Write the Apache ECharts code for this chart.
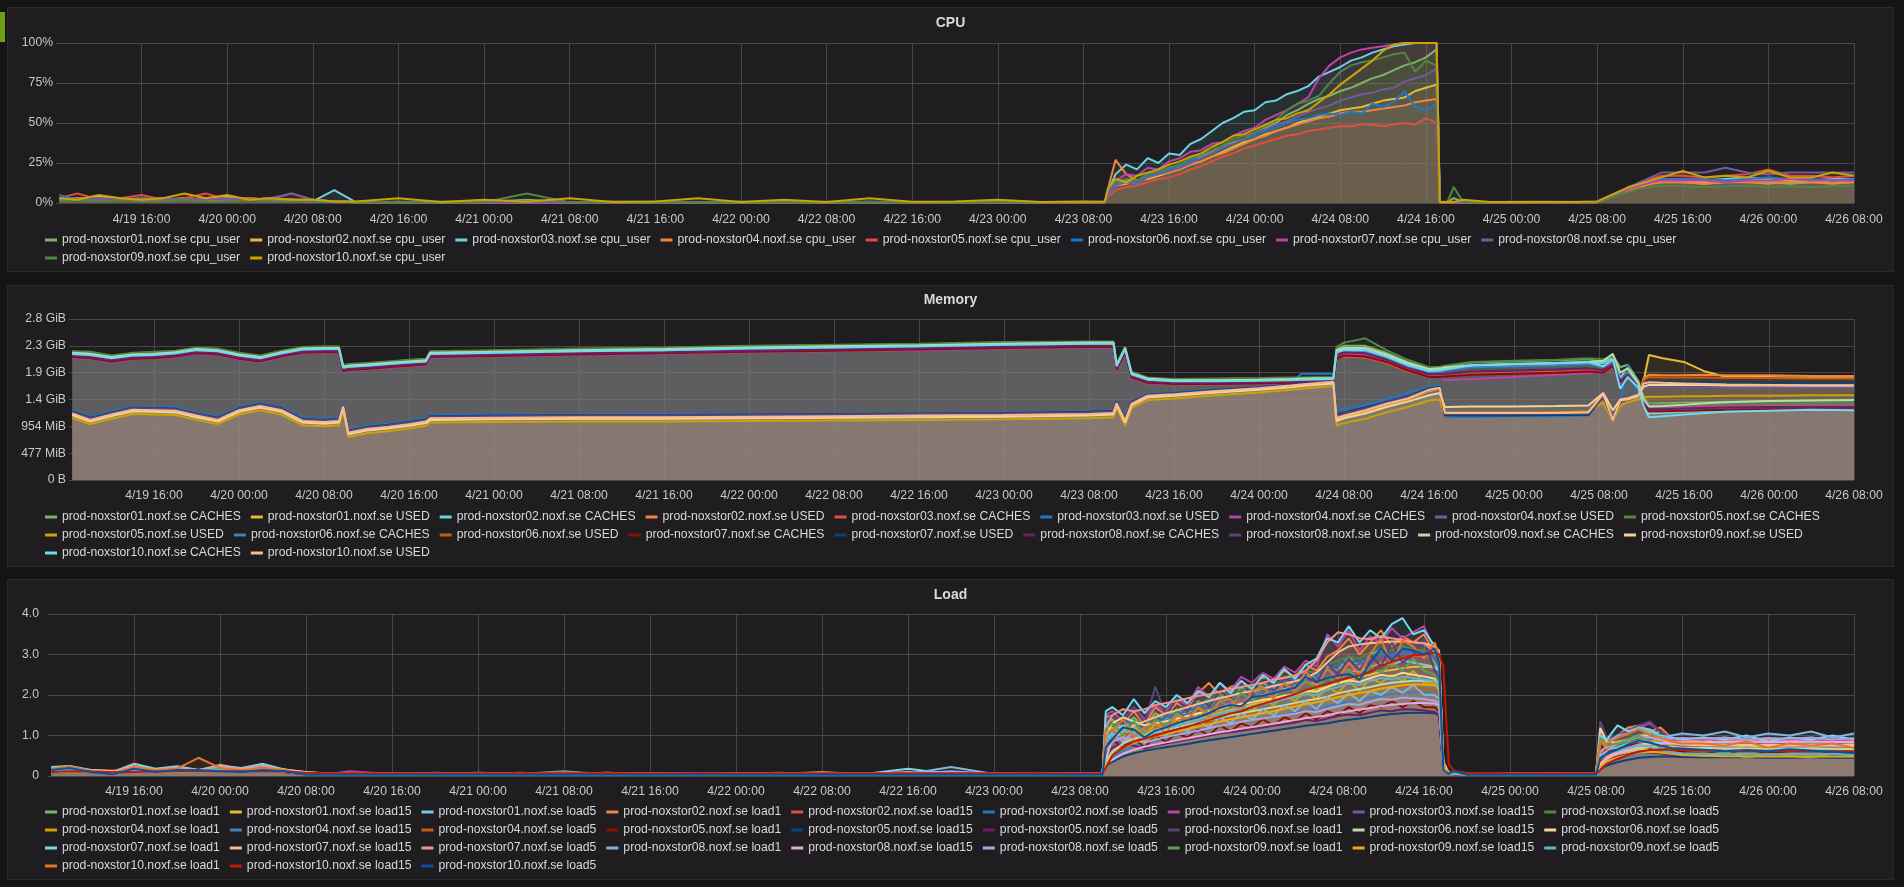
<!DOCTYPE html>
<html>
<head>
<meta charset="utf-8">
<title>noxstor</title>
<script src="https://cdn.jsdelivr.net/npm/echarts@6/dist/echarts.min.js"></script>
<style>
  body { margin: 0; background: #141414; width: 1904px; height: 887px; overflow: hidden; }
  .panel { position: absolute; left: 7px; width: 1885px; background: #1f1d1f; border: 1px solid #2a2a2a; }
  .mark { position: absolute; left: 0; top: 12px; width: 5px; height: 30px; background: #6ea014; }
  #problems { position: absolute; right: 10px; bottom: 0; color: red; font: 12px sans-serif; }
</style>
</head>
<body>
<div class="mark"></div>
<div id="cpu" class="panel" style="top:7px;height:263px"></div>
<div id="mem" class="panel" style="top:285px;height:280px"></div>
<div id="load" class="panel" style="top:579px;height:299px"></div>
<div id="problems"></div>
<script>
var FONT = '"Liberation Sans", Arial, sans-serif';
var FSIZE = 12.2;
var GRID = '#474747';
var hosts = ['01', '02', '03', '04', '05', '06', '07', '08', '09', '10'];
var palette = ['#7EB26D', '#EAB839', '#6ED0E0', '#EF843C', '#E24D42', '#1F78C1', '#BA43A6', '#705DA0', '#508642', '#CCA300',
  '#447EBC', '#C15C17', '#890F02', '#0A437C', '#6D1F62', '#584477', '#B7DBAB', '#F4D598', '#70DBED', '#F9BA8F',
  '#F29191', '#82B5D8', '#E5A8E2', '#AEA2E0', '#629E51', '#E5AC0E', '#64B0C8', '#E0752D', '#BF1B00', '#0A50A1'];

// x values are hours since 4/19 00:00

// ---------- CPU (%) ----------
var cpuTimes = [8.3,10,12,14,16,18,20,22,24,26,28,30,32,34,
  36,40,44,48,52,56,60,64,68,72,76,80,84,88,92,96,100,104,
  106,106.3,
  107,108,109,110,111,112,113,114,115,116,117,118,119,120,121,122,123,124,125,126,127,128,129,130,131,132,133,134,135,136,137,
  137.3,138,138.6,139.5,142,146,150,
  152,153,154,155,156,157,158,
  160,162,164,166,168,170,172,174,176];

var cpu01 = [2,3,2,3,2,2,3,2,2,3,2,2,1,1,
  0.5,0.8,0.4,0.6,2,0.5,0.7,0.4,0.6,0.5,0.8,0.4,0.6,0.5,0.7,0.4,0.6,0.5,
  0.5,8,
  12,14,13,17,19,21,23,27,29,32,35,38,40,44,47,50,55,58,62,65,67,70,72,75,78,80,83,86,88,91,96,
  0.5,0.6,3,0.5,0.6,0.5,0.7,
  0.6,3,6,8,10,12,13,
  13,12,13,14,13,12,13,13,13];
var cpu02 = [3,2,4,3,2,3,2,3,4,2,3,2,2,1,
  0.6,0.5,0.7,0.4,0.6,0.5,0.8,0.4,0.5,0.6,0.5,0.7,0.4,0.6,0.5,0.4,0.6,0.5,
  0.6,6,
  11,12,14,15,17,19,21,24,26,29,32,35,38,40,43,45,47,50,52,54,56,58,59,60,62,64,65,66,70,72,74,
  0.5,0.5,0.6,0.5,0.7,0.5,0.6,
  0.7,3,6,9,11,13,14,
  14,13,14,15,14,14,13,14,14];
var cpu03 = [2,2,3,2,2,3,2,2,3,2,2,2,1,8,
  0.5,0.6,0.4,0.5,0.6,0.5,0.4,0.6,0.5,0.4,0.5,0.6,0.4,0.5,0.6,0.5,0.4,0.5,
  0.5,7,
  18,24,21,28,25,31,30,37,40,45,50,53,57,58,63,64,68,70,73,79,82,85,89,91,94,96,98,99,100,100,100,
  0.4,0.5,0.5,0.4,0.5,0.4,0.5,
  0.5,4,7,9,11,13,15,
  15,14,15,16,15,15,14,15,15];
var cpu04 = [2,3,2,2,3,2,3,2,2,3,2,2,1,1,
  0.4,0.5,0.6,0.4,0.5,0.6,0.4,0.5,0.4,0.6,0.5,0.4,0.5,0.6,0.4,0.5,0.6,0.4,
  0.4,9,
  27,18,14,16,18,19,21,24,26,29,31,34,37,40,42,45,47,49,51,53,54,56,57,57,58,59,60,61,63,64,65,
  0.4,0.4,0.5,0.4,0.5,0.4,0.4,
  0.5,3,6,8,10,12,13,
  13,12,13,13,12,13,13,12,13];
var cpu05 = [3,6,2,3,5,2,3,6,2,3,2,6,2,1,
  0.6,0.5,0.4,0.6,0.5,0.4,0.6,0.5,0.4,0.5,0.6,0.4,0.5,0.4,0.6,0.5,0.4,0.5,
  0.5,4,
  8,10,11,13,15,16,18,21,23,26,29,31,34,36,38,40,42,43,45,46,47,48,48,49,49,48,49,50,49,53,50,
  0.5,0.5,0.6,0.5,0.5,0.6,0.5,
  0.6,4,7,10,12,15,17,
  17,16,17,18,21,17,17,16,17];
var cpu06 = [5,2,3,2,3,2,2,3,2,2,3,2,1,1,
  0.8,0.6,1,0.7,0.9,0.6,0.8,1,0.7,0.9,0.6,0.8,1,0.7,0.8,0.9,0.7,0.8,
  0.8,7,
  12,15,13,17,19,21,23,27,28,31,34,37,40,42,45,47,50,52,53,55,56,55,57,56,62,60,63,70,60,58,62,
  0.6,0.7,0.6,0.8,0.7,0.6,0.8,
  0.8,3,6,9,11,13,15,
  15,15,14,15,16,15,15,14,15];
var cpu07 = [2,2,2,3,2,2,2,3,2,2,2,2,1,1,
  0.4,0.5,0.4,0.5,0.4,0.5,0.4,0.5,0.4,0.5,0.4,0.5,0.4,0.5,0.4,0.5,0.4,0.5,
  0.5,8,
  14,18,17,22,21,26,28,32,33,37,38,42,45,47,52,55,58,62,66,78,86,91,94,96,97,98,99,100,100,100,100,
  0.4,0.5,0.4,0.5,0.4,0.5,0.4,
  0.5,3,6,9,11,13,14,
  14,14,13,14,14,15,14,14,14];
var cpu08 = [2,2,3,2,2,3,2,2,3,2,3,6,2,1,
  0.5,0.4,0.5,0.6,0.4,0.5,0.6,0.4,0.5,0.6,0.4,0.5,0.6,0.4,0.5,0.6,0.4,0.5,
  0.5,5,
  11,13,12,16,18,20,22,25,28,31,35,37,40,44,46,49,51,54,57,59,61,64,66,68,69,71,72,76,78,80,84,
  0.5,0.5,0.5,0.6,0.5,0.5,0.5,
  0.6,4,7,10,13,16,19,
  19,19,22,19,18,19,19,19,19];
var cpu09 = [1,2,1,2,1,1,2,1,1,2,1,1,1,0.5,
  0.3,0.4,0.3,0.5,6,0.4,0.3,0.5,0.3,0.4,0.3,0.5,0.3,0.4,0.3,0.5,0.3,0.4,
  0.4,10,
  13,15,14,18,20,22,24,28,30,33,36,40,42,44,48,52,58,62,64,67,75,82,86,88,89,91,93,94,82,89,86,
  0.4,0.5,10,0.4,0.5,0.4,0.5,
  0.5,3,5,7,9,10,11,
  10.5,10,10.5,11,10,10.5,10,10.5,11];
var cpu10 = [3,2,5,3,2,3,6,3,5,2,3,2,2,1,
  1,3,0.6,2,0.8,3,0.6,1,3,0.7,2,0.6,3,0.8,1,2,0.7,1,
  0.8,9,
  15,13,17,19,21,24,26,29,31,35,38,42,43,46,49,52,53,56,58,63,68,74,79,84,89,95,99,100,100,100,100,
  0.7,0.8,0.6,2,0.7,0.8,0.7,
  1,4,7,10,12,14,16,
  20,16,17,16,20,16,16,19,17];

// ---------- Memory (GB, 1e9 bytes) ----------
var memTimes = [8.3,10,12,14,16,18,20,22,24,26,28,30,32,33.4,33.8,34.3,
  36,38,40,41.6,42,
  48,56,64,72,80,88,96,104,
  106.3,106.6,107.4,108,109.5,
  112,116,120,123,124,127,
  127.3,128,130,132,134,136,137,137.5,
  140,144,148,151,
  152.4,153.3,154,154.7,155.7,156.2,156.7,
  158,160,162,164,168,172,176];

var mem01C = [2.39,2.38,2.31,2.36,2.38,2.40,2.46,2.44,2.36,2.31,2.40,2.47,2.48,2.48,2.13,2.15,
  2.17,2.20,2.23,2.25,2.39,
  2.41,2.44,2.46,2.49,2.51,2.53,2.56,2.57,
  2.57,2.16,2.47,2.01,1.90,
  1.87,1.88,1.89,1.90,1.90,1.91,
  2.44,2.50,2.50,2.37,2.20,2.08,2.09,2.11,
  2.19,2.21,2.23,2.25,
  2.20,2.32,2.10,2.15,1.85,1.55,1.42,
  1.43,1.44,1.45,1.46,1.47,1.48,1.48];
var mem01U = [1.22,1.10,1.20,1.29,1.28,1.27,1.18,1.10,1.28,1.36,1.28,1.08,1.06,1.08,1.35,0.86,
  0.93,0.97,1.02,1.07,1.13,
  1.14,1.15,1.15,1.16,1.17,1.18,1.19,1.21,
  1.23,1.41,1.08,1.40,1.55,
  1.58,1.64,1.69,1.74,1.76,1.81,
  1.13,1.18,1.28,1.40,1.50,1.66,1.70,1.23,
  1.23,1.23,1.23,1.24,
  1.58,1.10,1.46,1.48,1.55,1.85,2.33,
  2.27,2.20,2.02,1.92,1.92,1.90,1.90];
var mem02C = [2.36,2.34,2.28,2.33,2.34,2.37,2.43,2.41,2.33,2.28,2.37,2.44,2.45,2.45,2.10,2.12,
  2.14,2.17,2.20,2.22,2.36,
  2.38,2.41,2.43,2.46,2.48,2.50,2.53,2.55,
  2.55,2.13,2.45,1.98,1.88,
  1.85,1.85,1.86,1.87,1.88,1.89,
  2.40,2.44,2.44,2.32,2.16,2.05,2.06,2.08,
  2.12,2.14,2.16,2.18,
  2.18,2.28,1.90,2.10,1.80,1.45,1.24,
  1.25,1.27,1.29,1.30,1.32,1.33,1.33];
var mem02U = [1.25,1.13,1.23,1.32,1.31,1.30,1.21,1.13,1.31,1.39,1.31,1.11,1.09,1.11,1.38,0.89,
  0.96,1.00,1.05,1.10,1.16,
  1.17,1.18,1.18,1.19,1.20,1.21,1.22,1.24,
  1.26,1.44,1.11,1.43,1.58,
  1.61,1.67,1.72,1.77,1.79,1.84,
  1.16,1.21,1.31,1.43,1.53,1.69,1.73,1.26,
  1.26,1.26,1.26,1.27,
  1.62,1.14,1.50,1.52,1.60,1.90,1.96,
  1.95,1.95,1.96,1.95,1.95,1.94,1.94];
var mem03C = [2.30,2.28,2.22,2.27,2.28,2.31,2.37,2.35,2.27,2.22,2.31,2.38,2.39,2.39,2.04,2.06,
  2.08,2.11,2.14,2.16,2.30,
  2.32,2.35,2.37,2.40,2.42,2.44,2.47,2.49,
  2.49,2.07,2.39,1.92,1.82,
  1.80,1.80,1.81,1.82,1.82,1.83,
  2.28,2.30,2.28,2.18,2.02,1.92,1.92,1.94,
  1.98,2.00,2.02,2.04,
  2.00,2.10,1.85,1.95,1.70,1.45,1.32,
  1.32,1.33,1.34,1.35,1.36,1.36,1.36];
var mem03U = [1.30,1.18,1.28,1.37,1.36,1.35,1.26,1.18,1.36,1.44,1.36,1.16,1.14,1.16,1.40,0.94,
  1.01,1.05,1.10,1.15,1.21,
  1.22,1.22,1.23,1.23,1.24,1.25,1.26,1.28,
  1.30,1.47,1.14,1.46,1.60,
  1.63,1.68,1.73,1.80,1.98,1.98,
  1.30,1.33,1.40,1.50,1.62,1.74,1.76,1.18,
  1.18,1.19,1.19,1.20,
  1.58,1.15,1.45,2.15,1.55,1.75,1.78,
  1.78,1.78,1.78,1.77,1.77,1.77,1.77];
var mem04C = [2.28,2.26,2.20,2.25,2.26,2.29,2.35,2.33,2.25,2.20,2.29,2.36,2.37,2.37,2.02,2.04,
  2.06,2.09,2.12,2.14,2.28,
  2.30,2.33,2.35,2.38,2.40,2.42,2.45,2.47,
  2.47,2.05,2.37,1.90,1.80,
  1.78,1.78,1.79,1.80,1.80,1.81,
  2.32,2.36,2.34,2.22,2.06,1.95,1.95,1.86,
  1.88,1.92,1.96,1.99,
  2.00,2.20,1.80,1.98,1.75,1.48,1.34,
  1.34,1.35,1.36,1.37,1.38,1.38,1.38];
var mem04U = [1.26,1.14,1.24,1.33,1.32,1.31,1.22,1.14,1.32,1.40,1.32,1.12,1.10,1.12,1.38,0.90,
  0.97,1.01,1.06,1.11,1.17,
  1.18,1.19,1.19,1.20,1.21,1.22,1.23,1.25,
  1.27,1.44,1.12,1.43,1.58,
  1.61,1.67,1.72,1.77,1.79,1.84,
  1.18,1.23,1.32,1.44,1.54,1.68,1.71,1.22,
  1.22,1.22,1.23,1.23,
  1.55,1.12,1.45,1.48,1.56,1.72,1.74,
  1.74,1.74,1.74,1.73,1.73,1.73,1.73];
var mem05C = [2.40,2.39,2.32,2.37,2.39,2.41,2.47,2.45,2.37,2.32,2.41,2.48,2.49,2.49,2.14,2.16,
  2.18,2.21,2.24,2.26,2.40,
  2.42,2.45,2.47,2.50,2.52,2.54,2.57,2.58,
  2.58,2.17,2.48,2.02,1.91,
  1.88,1.89,1.90,1.91,1.91,1.92,
  2.48,2.56,2.64,2.42,2.24,2.10,2.11,2.13,
  2.20,2.22,2.24,2.27,
  2.25,2.30,2.00,2.05,1.78,1.50,1.40,
  1.40,1.41,1.42,1.43,1.44,1.45,1.45];
var mem05U = [1.16,1.04,1.14,1.23,1.22,1.21,1.12,1.04,1.22,1.30,1.22,1.02,1.00,1.02,1.29,0.80,
  0.87,0.91,0.96,1.01,1.07,
  1.08,1.09,1.09,1.10,1.11,1.12,1.13,1.15,
  1.17,1.35,1.02,1.34,1.49,
  1.52,1.58,1.63,1.68,1.70,1.75,
  1.02,1.06,1.14,1.26,1.36,1.48,1.50,1.20,
  1.22,1.24,1.26,1.28,
  1.45,1.10,1.38,1.45,1.50,1.54,1.55,
  1.55,1.56,1.56,1.57,1.57,1.58,1.58];
var mem06C = [2.32,2.30,2.24,2.29,2.30,2.33,2.39,2.37,2.29,2.24,2.33,2.40,2.41,2.41,2.06,2.08,
  2.10,2.13,2.16,2.18,2.32,
  2.34,2.37,2.39,2.42,2.44,2.46,2.49,2.51,
  2.51,2.09,2.41,1.94,1.85,
  1.82,1.82,1.83,1.84,1.85,1.86,
  2.36,2.40,2.40,2.28,2.12,2.01,2.02,2.04,
  2.10,2.12,2.14,2.16,
  2.10,2.22,1.85,2.00,1.76,1.42,1.30,
  1.30,1.31,1.32,1.33,1.34,1.34,1.34];
var mem06U = [1.24,1.12,1.22,1.31,1.30,1.29,1.20,1.12,1.30,1.38,1.30,1.10,1.08,1.10,1.36,0.88,
  0.95,0.99,1.04,1.09,1.15,
  1.16,1.17,1.17,1.18,1.19,1.20,1.21,1.23,
  1.25,1.42,1.10,1.41,1.56,
  1.59,1.65,1.70,1.75,1.77,1.82,
  1.16,1.21,1.30,1.42,1.52,1.67,1.71,1.24,
  1.24,1.24,1.24,1.25,
  1.58,1.12,1.46,1.49,1.58,1.86,1.92,
  1.91,1.91,1.91,1.90,1.90,1.89,1.89];
var mem07C = [2.29,2.27,2.21,2.26,2.27,2.30,2.36,2.34,2.26,2.21,2.30,2.37,2.38,2.38,2.03,2.05,
  2.07,2.10,2.13,2.15,2.29,
  2.31,2.34,2.36,2.39,2.41,2.43,2.46,2.48,
  2.48,2.06,2.38,1.91,1.81,
  1.79,1.79,1.80,1.81,1.81,1.82,
  2.26,2.32,2.30,2.20,2.04,1.92,1.92,1.93,
  1.96,1.98,2.00,2.02,
  2.00,2.12,1.82,1.95,1.72,1.42,1.28,
  1.28,1.29,1.30,1.31,1.32,1.32,1.32];
var mem07U = [1.28,1.16,1.26,1.35,1.34,1.33,1.24,1.16,1.34,1.42,1.34,1.14,1.12,1.14,1.38,0.92,
  0.99,1.03,1.08,1.13,1.19,
  1.20,1.21,1.21,1.22,1.23,1.24,1.25,1.27,
  1.29,1.46,1.13,1.45,1.59,
  1.62,1.68,1.73,1.78,1.80,1.85,
  1.22,1.26,1.35,1.46,1.56,1.71,1.74,1.20,
  1.20,1.20,1.21,1.21,
  1.56,1.13,1.46,1.50,1.56,1.80,1.83,
  1.83,1.83,1.83,1.82,1.82,1.82,1.82];
var mem08C = [2.31,2.29,2.23,2.28,2.29,2.32,2.38,2.36,2.28,2.23,2.32,2.39,2.40,2.40,2.05,2.07,
  2.09,2.12,2.15,2.17,2.31,
  2.33,2.36,2.38,2.41,2.43,2.45,2.48,2.50,
  2.50,2.08,2.40,1.93,1.83,
  1.81,1.81,1.82,1.83,1.83,1.84,
  2.32,2.38,2.36,2.24,2.08,1.97,1.97,1.98,
  2.02,2.04,2.06,2.08,
  2.05,2.15,1.84,1.96,1.74,1.45,1.32,
  1.32,1.33,1.34,1.35,1.36,1.36,1.36];
var mem08U = [1.27,1.15,1.25,1.34,1.33,1.32,1.23,1.15,1.33,1.41,1.33,1.13,1.11,1.13,1.38,0.91,
  0.98,1.02,1.07,1.12,1.18,
  1.19,1.20,1.20,1.21,1.22,1.23,1.24,1.26,
  1.28,1.45,1.12,1.44,1.58,
  1.61,1.67,1.72,1.77,1.79,1.84,
  1.20,1.24,1.33,1.45,1.55,1.69,1.72,1.23,
  1.23,1.23,1.24,1.24,
  1.56,1.12,1.46,1.49,1.56,1.74,1.76,
  1.76,1.76,1.76,1.75,1.75,1.75,1.75];
var mem09C = [2.37,2.35,2.29,2.34,2.35,2.38,2.44,2.42,2.34,2.29,2.38,2.45,2.46,2.46,2.11,2.13,
  2.15,2.18,2.21,2.23,2.37,
  2.39,2.42,2.44,2.47,2.49,2.51,2.54,2.56,
  2.56,2.14,2.46,1.99,1.89,
  1.86,1.86,1.87,1.88,1.89,1.90,
  2.42,2.46,2.46,2.34,2.18,2.07,2.08,2.10,
  2.14,2.16,2.18,2.20,
  2.22,2.35,2.00,2.08,1.80,1.50,1.37,
  1.38,1.40,1.43,1.45,1.47,1.48,1.49];
var mem09U = [1.21,1.09,1.19,1.28,1.27,1.26,1.17,1.09,1.27,1.35,1.27,1.07,1.05,1.07,1.34,0.85,
  0.92,0.96,1.01,1.06,1.12,
  1.13,1.14,1.14,1.15,1.16,1.17,1.18,1.20,
  1.22,1.40,1.07,1.39,1.54,
  1.57,1.63,1.68,1.73,1.75,1.80,
  1.10,1.15,1.24,1.36,1.46,1.58,1.62,1.36,
  1.37,1.37,1.38,1.39,
  1.62,1.30,1.50,1.52,1.58,1.74,1.77,
  1.77,1.77,1.77,1.76,1.76,1.76,1.76];
var mem10C = [2.35,2.33,2.27,2.32,2.33,2.36,2.42,2.40,2.32,2.27,2.36,2.43,2.44,2.44,2.09,2.11,
  2.13,2.16,2.19,2.21,2.35,
  2.37,2.40,2.42,2.45,2.47,2.49,2.52,2.54,
  2.54,2.12,2.44,1.97,1.87,
  1.84,1.84,1.85,1.86,1.87,1.88,
  2.38,2.42,2.42,2.30,2.14,2.03,2.04,2.06,
  2.14,2.16,2.18,2.20,
  2.12,2.25,1.70,1.92,1.72,1.38,1.17,
  1.19,1.22,1.25,1.27,1.29,1.31,1.30];
var mem10U = [1.24,1.12,1.22,1.31,1.30,1.29,1.20,1.12,1.30,1.38,1.30,1.10,1.08,1.10,1.37,0.88,
  0.95,0.99,1.04,1.09,1.15,
  1.16,1.17,1.17,1.18,1.19,1.20,1.21,1.23,
  1.25,1.43,1.10,1.42,1.57,
  1.60,1.66,1.71,1.76,1.78,1.83,
  1.15,1.20,1.30,1.42,1.52,1.68,1.72,1.25,
  1.25,1.25,1.25,1.26,
  1.60,1.12,1.48,1.50,1.56,1.80,1.82,
  1.81,1.80,1.79,1.78,1.77,1.76,1.76];

// ---------- Load ----------
var loadTimes = [8.3,10,12,14,16,18,20,22,24,26,28,30,32,34,
  36,40,44,48,52,56,60,64,68,72,76,80,84,88,92,96,100,104,
  105.5,106.1,106.4,
  107,108,109,110,111,112,113,114,115,116,117,118,119,120,121,122,123,124,125,126,127,128,129,130,131,132,133,134,135,136,137,
  137.4,137.8,138.3,138.8,140,144,148,152,
  152.4,153,154,155,156,157,158,159,160,
  162,164,166,168,170,172,174,176];

var load01_1 = [0.2,0.25,0.12,0.08,0.22,0.15,0.2,0.12,0.24,0.16,0.2,0.15,0.05,0.04,
  0.06,0.04,0.08,0.03,0.05,0.12,0.04,0.06,0.03,0.05,0.08,0.04,0.06,0.03,0.05,0.07,0.04,0.05,
  0.06,0.05,1.3,
  1.4,1.15,1.45,1.2,1.55,1.4,1.65,1.5,1.85,1.7,2.0,1.9,2.2,2.0,2.3,2.15,2.4,2.25,2.55,2.4,2.7,2.6,2.95,2.7,3.0,3.1,2.85,3.2,3.0,3.1,2.8,
  2.6,0.15,0.06,0.1,0.05,0.04,0.06,0.05,
  1.0,0.8,0.95,1.05,1.2,1.05,1.1,0.9,0.85,
  0.8,0.9,0.7,0.85,0.75,0.9,0.8,0.75];
var load01_15 = [0.12,0.14,0.13,0.11,0.13,0.13,0.14,0.13,0.15,0.14,0.15,0.14,0.08,0.05,
  0.05,0.04,0.05,0.04,0.05,0.05,0.04,0.05,0.04,0.05,0.05,0.04,0.05,0.04,0.05,0.05,0.04,0.05,
  0.05,0.05,0.35,
  0.6,0.82,0.96,1.05,1.14,1.2,1.28,1.35,1.42,1.5,1.56,1.63,1.7,1.76,1.82,1.88,1.94,2.0,2.08,2.14,2.2,2.3,2.38,2.44,2.5,2.58,2.62,2.66,2.7,2.7,2.68,
  2.6,0.3,0.08,0.06,0.05,0.04,0.05,0.05,
  0.25,0.4,0.5,0.58,0.65,0.68,0.7,0.7,0.68,
  0.67,0.66,0.66,0.65,0.65,0.66,0.66,0.65];
var load01_5 = [0.16,0.2,0.12,0.08,0.18,0.13,0.17,0.12,0.2,0.14,0.17,0.14,0.05,0.04,
  0.05,0.04,0.06,0.04,0.05,0.08,0.04,0.05,0.04,0.05,0.06,0.04,0.05,0.04,0.05,0.06,0.04,0.05,
  0.05,0.05,0.8,
  1.1,1.25,1.2,1.1,1.25,1.33,1.42,1.48,1.58,1.66,1.75,1.82,1.9,1.95,2.02,2.08,2.15,2.2,2.3,2.28,2.42,2.52,2.62,2.58,2.7,2.8,2.75,2.85,2.8,2.75,2.7,
  2.6,0.2,0.07,0.08,0.05,0.04,0.05,0.05,
  0.5,0.62,0.72,0.8,0.88,0.85,0.82,0.78,0.76,
  0.74,0.72,0.73,0.71,0.72,0.74,0.72,0.7];
var load02_1 = [0.22,0.18,0.14,0.1,0.2,0.17,0.22,0.14,0.28,0.18,0.22,0.16,0.05,0.04,
  0.05,0.07,0.04,0.06,0.05,0.04,0.08,0.05,0.04,0.06,0.05,0.1,0.04,0.05,0.06,0.04,0.05,0.06,
  0.06,0.06,1.45,
  1.5,1.3,1.6,1.25,1.7,1.5,1.8,1.65,2.05,2.3,2.0,2.2,2.3,2.15,2.45,2.3,2.6,2.45,2.75,2.6,2.95,3.1,3.4,3.0,3.3,3.6,3.2,3.45,3.3,3.5,3.0,
  2.8,0.15,0.06,0.12,0.05,0.05,0.04,0.05,
  1.1,0.9,1.0,1.2,1.25,1.1,1.2,0.95,0.9,
  0.85,0.95,0.8,0.9,0.85,0.95,0.85,0.8];
var load02_15 = [0.13,0.14,0.14,0.12,0.13,0.14,0.15,0.14,0.16,0.15,0.16,0.15,0.09,0.06,
  0.05,0.05,0.05,0.05,0.05,0.05,0.05,0.05,0.05,0.05,0.06,0.05,0.05,0.05,0.05,0.05,0.05,0.05,
  0.05,0.05,0.38,
  0.65,0.9,1.05,1.15,1.25,1.32,1.4,1.47,1.55,1.62,1.7,1.78,1.84,1.92,1.98,2.05,2.12,2.2,2.28,2.34,2.42,2.52,2.6,2.66,2.74,2.82,2.88,2.92,2.95,2.96,2.94,
  2.85,0.35,0.08,0.06,0.05,0.05,0.05,0.05,
  0.27,0.42,0.54,0.62,0.7,0.73,0.74,0.74,0.73,
  0.72,0.72,0.71,0.71,0.71,0.72,0.71,0.71];
var load02_5 = [0.17,0.17,0.13,0.1,0.17,0.15,0.19,0.14,0.22,0.16,0.19,0.15,0.06,0.04,
  0.05,0.05,0.05,0.05,0.05,0.04,0.06,0.05,0.04,0.05,0.05,0.07,0.04,0.05,0.05,0.04,0.05,0.05,
  0.05,0.05,0.9,
  1.2,1.35,1.3,1.2,1.35,1.45,1.55,1.6,1.72,1.8,1.9,1.98,2.05,2.12,2.2,2.25,2.35,2.4,2.5,2.48,2.65,2.75,2.85,2.8,2.95,3.05,3.0,3.1,3.05,3.0,2.95,
  2.8,0.2,0.07,0.09,0.05,0.05,0.05,0.05,
  0.55,0.68,0.78,0.88,0.95,0.92,0.9,0.84,0.8,
  0.78,0.79,0.77,0.78,0.78,0.8,0.78,0.76];
var load03_1 = [0.18,0.2,0.15,0.1,0.25,0.16,0.22,0.15,0.2,0.18,0.24,0.14,0.06,0.04,
  0.12,0.05,0.04,0.06,0.05,0.09,0.04,0.05,0.06,0.04,0.05,0.06,0.05,0.04,0.07,0.05,0.04,0.06,
  0.06,0.05,1.5,
  1.6,1.35,1.7,1.4,1.75,1.6,1.9,1.75,2.2,1.95,2.3,2.1,2.45,2.3,2.55,2.4,2.7,2.55,2.85,2.7,3.5,3.2,3.6,3.1,3.45,3.3,3.65,3.4,3.55,3.7,3.1,
  2.9,0.14,0.06,0.1,0.05,0.06,0.05,0.05,
  1.15,0.85,1.0,1.15,1.2,1.3,1.1,0.95,0.9,
  0.95,0.85,0.9,0.8,0.95,0.85,0.9,0.85];
var load03_15 = [0.12,0.13,0.13,0.12,0.14,0.14,0.15,0.14,0.15,0.15,0.16,0.15,0.09,0.06,
  0.06,0.05,0.05,0.05,0.05,0.05,0.05,0.05,0.05,0.05,0.05,0.05,0.05,0.05,0.05,0.05,0.05,0.05,
  0.05,0.05,0.4,
  0.7,0.95,1.1,1.2,1.3,1.38,1.45,1.52,1.6,1.68,1.76,1.84,1.9,1.98,2.05,2.12,2.2,2.28,2.36,2.42,2.5,2.6,2.7,2.76,2.84,2.92,2.98,3.02,3.05,3.06,3.04,
  2.95,0.35,0.08,0.06,0.05,0.05,0.05,0.05,
  0.28,0.44,0.56,0.65,0.72,0.76,0.77,0.77,0.76,
  0.75,0.74,0.74,0.73,0.74,0.74,0.73,0.73];
var load03_5 = [0.15,0.17,0.14,0.1,0.2,0.15,0.19,0.15,0.18,0.17,0.2,0.14,0.06,0.04,
  0.08,0.05,0.04,0.05,0.05,0.07,0.04,0.05,0.05,0.04,0.05,0.05,0.05,0.04,0.06,0.05,0.04,0.05,
  0.05,0.05,0.95,
  1.3,1.45,1.35,1.3,1.45,1.55,1.62,1.7,1.8,1.9,2.0,2.05,2.12,2.2,2.3,2.35,2.45,2.5,2.6,2.55,2.75,2.85,2.95,2.9,3.05,3.15,3.1,3.2,3.15,3.1,3.05,
  2.9,0.2,0.07,0.08,0.05,0.05,0.05,0.05,
  0.56,0.66,0.76,0.86,0.94,0.98,0.9,0.84,0.82,
  0.8,0.78,0.8,0.76,0.8,0.78,0.79,0.77];
var load04_1 = [0.14,0.18,0.1,0.08,0.16,0.12,0.18,0.1,0.2,0.13,0.16,0.12,0.04,0.03,
  0.04,0.05,0.03,0.04,0.08,0.03,0.05,0.04,0.03,0.06,0.04,0.03,0.05,0.04,0.03,0.05,0.04,0.03,
  0.04,0.04,1.0,
  1.2,0.95,1.25,0.95,1.3,1.15,1.4,1.25,1.55,1.4,1.65,1.5,1.8,1.6,1.9,1.75,2.0,1.85,2.1,1.9,2.2,2.05,2.35,2.1,2.4,2.3,2.5,2.35,2.6,2.3,2.3,
  2.1,0.12,0.05,0.07,0.04,0.04,0.05,0.04,
  0.9,0.7,0.8,0.9,1.0,0.85,0.9,0.75,0.7,
  0.7,0.6,0.75,0.65,0.6,0.7,0.65,0.6];
var load04_15 = [0.1,0.11,0.11,0.1,0.11,0.11,0.12,0.11,0.13,0.12,0.13,0.12,0.07,0.05,
  0.04,0.04,0.04,0.04,0.04,0.04,0.04,0.04,0.04,0.04,0.04,0.04,0.04,0.04,0.04,0.04,0.04,0.04,
  0.04,0.04,0.3,
  0.45,0.62,0.74,0.82,0.88,0.94,1.0,1.05,1.1,1.16,1.22,1.27,1.32,1.37,1.42,1.46,1.52,1.56,1.62,1.66,1.72,1.78,1.84,1.88,1.93,1.98,2.02,2.05,2.07,2.08,2.06,
  2.0,0.3,0.07,0.05,0.04,0.04,0.04,0.04,
  0.2,0.32,0.42,0.48,0.54,0.57,0.58,0.58,0.57,
  0.56,0.56,0.55,0.55,0.55,0.56,0.55,0.55];
var load04_5 = [0.12,0.15,0.1,0.08,0.14,0.11,0.16,0.1,0.17,0.13,0.14,0.11,0.04,0.03,
  0.04,0.04,0.03,0.04,0.06,0.03,0.04,0.04,0.03,0.05,0.04,0.03,0.04,0.04,0.03,0.04,0.04,0.03,
  0.04,0.04,0.7,
  0.95,1.05,1.0,0.92,1.02,1.08,1.15,1.2,1.28,1.34,1.4,1.46,1.52,1.56,1.62,1.66,1.72,1.76,1.84,1.82,1.92,1.98,2.06,2.02,2.12,2.2,2.16,2.22,2.2,2.16,2.12,
  2.0,0.16,0.06,0.06,0.04,0.04,0.04,0.04,
  0.42,0.5,0.58,0.66,0.72,0.7,0.66,0.62,0.6,
  0.6,0.58,0.61,0.59,0.6,0.62,0.6,0.58];
var load05_1 = [0.12,0.15,0.1,0.06,0.35,0.1,0.14,0.1,0.16,0.12,0.15,0.1,0.04,0.03,
  0.03,0.04,0.03,0.05,0.03,0.04,0.03,0.05,0.03,0.04,0.03,0.04,0.03,0.05,0.03,0.04,0.03,0.04,
  0.04,0.04,0.8,
  0.9,0.7,0.95,0.7,1.0,0.85,1.05,0.95,1.15,1.0,1.25,1.1,1.3,1.2,1.4,1.25,1.45,1.35,1.55,1.4,1.6,1.5,1.7,1.55,1.75,1.7,1.85,1.7,1.85,1.7,1.7,
  1.6,0.1,0.05,0.06,0.04,0.04,0.04,0.04,
  0.75,0.6,0.65,0.75,0.8,0.7,0.75,0.6,0.6,
  0.55,0.6,0.5,0.6,0.55,0.5,0.6,0.55];
var load05_15 = [0.09,0.1,0.1,0.09,0.1,0.1,0.11,0.1,0.11,0.11,0.11,0.1,0.06,0.04,
  0.03,0.03,0.03,0.03,0.03,0.03,0.03,0.03,0.03,0.03,0.03,0.03,0.03,0.03,0.03,0.03,0.03,0.03,
  0.03,0.03,0.25,
  0.35,0.48,0.56,0.62,0.67,0.71,0.75,0.79,0.84,0.88,0.92,0.96,1.0,1.04,1.08,1.12,1.16,1.2,1.24,1.27,1.3,1.35,1.39,1.42,1.46,1.5,1.53,1.55,1.56,1.56,1.55,
  1.5,0.25,0.06,0.04,0.03,0.03,0.03,0.03,
  0.16,0.26,0.34,0.4,0.45,0.47,0.48,0.48,0.47,
  0.46,0.46,0.46,0.45,0.45,0.46,0.45,0.45];
var load05_5 = [0.1,0.13,0.09,0.07,0.2,0.1,0.14,0.09,0.14,0.11,0.13,0.1,0.04,0.03,
  0.03,0.04,0.03,0.04,0.03,0.04,0.03,0.04,0.03,0.04,0.03,0.04,0.03,0.04,0.03,0.04,0.03,0.04,
  0.03,0.03,0.55,
  0.7,0.8,0.75,0.68,0.75,0.8,0.85,0.9,0.95,1.0,1.05,1.08,1.12,1.16,1.2,1.24,1.28,1.32,1.38,1.36,1.42,1.48,1.52,1.5,1.56,1.62,1.6,1.65,1.64,1.62,1.58,
  1.5,0.14,0.05,0.05,0.04,0.03,0.03,0.03,
  0.36,0.42,0.48,0.54,0.6,0.58,0.56,0.52,0.5,
  0.5,0.49,0.51,0.5,0.5,0.51,0.5,0.49];
var load06_1 = [0.16,0.2,0.12,0.09,0.18,0.14,0.2,0.12,0.2,0.15,0.19,0.13,0.05,0.04,
  0.04,0.06,0.05,0.04,0.05,0.06,0.04,0.05,0.06,0.04,0.05,0.04,0.06,0.05,0.04,0.05,0.06,0.04,
  0.05,0.05,1.35,
  1.5,1.3,1.7,1.3,2.2,1.5,1.9,1.6,2.0,1.7,2.1,1.9,2.3,2.0,2.55,2.1,2.4,2.3,2.6,2.3,2.8,2.5,2.9,2.6,3.0,2.7,3.3,2.8,3.0,3.4,2.6,
  2.4,0.12,0.05,0.08,0.05,0.05,0.04,0.05,
  1.35,0.95,1.0,1.1,1.25,1.35,1.1,0.9,0.85,
  0.8,0.9,0.75,0.85,0.8,0.9,0.8,0.75];
var load06_15 = [0.11,0.12,0.12,0.11,0.12,0.12,0.13,0.12,0.14,0.13,0.14,0.13,0.08,0.05,
  0.05,0.05,0.05,0.05,0.05,0.05,0.05,0.05,0.05,0.05,0.05,0.05,0.05,0.05,0.05,0.05,0.05,0.05,
  0.05,0.05,0.35,
  0.6,0.8,0.92,1.0,1.08,1.14,1.2,1.26,1.32,1.38,1.44,1.5,1.55,1.6,1.65,1.7,1.75,1.8,1.86,1.9,1.96,2.04,2.1,2.15,2.2,2.26,2.3,2.33,2.35,2.36,2.34,
  2.3,0.3,0.07,0.06,0.05,0.05,0.05,0.05,
  0.3,0.45,0.55,0.62,0.68,0.72,0.72,0.71,0.7,
  0.69,0.68,0.68,0.67,0.68,0.68,0.67,0.67];
var load06_5 = [0.14,0.18,0.12,0.09,0.16,0.13,0.18,0.12,0.18,0.14,0.17,0.13,0.05,0.04,
  0.04,0.05,0.05,0.04,0.05,0.05,0.04,0.05,0.05,0.04,0.05,0.04,0.05,0.05,0.04,0.05,0.05,0.04,
  0.05,0.05,1.0,
  1.3,1.45,1.35,1.25,1.3,1.35,1.42,1.48,1.55,1.6,1.66,1.72,1.78,1.82,1.88,1.92,1.98,2.02,2.1,2.08,2.2,2.28,2.36,2.32,2.42,2.5,2.46,2.55,2.5,2.46,2.4,
  2.3,0.18,0.06,0.07,0.05,0.05,0.05,0.05,
  1.19,0.85,0.82,0.9,1.0,1.0,0.9,0.82,0.78,
  0.76,0.75,0.76,0.74,0.75,0.76,0.75,0.74];
var load07_1 = [0.22,0.25,0.15,0.1,0.3,0.18,0.24,0.15,0.25,0.2,0.3,0.16,0.06,0.05,
  0.05,0.06,0.05,0.08,0.05,0.06,0.05,0.07,0.05,0.06,0.05,0.07,0.05,0.18,0.05,0.06,0.05,0.07,
  0.06,0.06,1.6,
  1.7,1.5,1.9,1.55,1.85,1.7,2.0,1.8,2.1,1.95,2.3,2.05,2.35,2.15,2.5,2.3,2.65,2.4,2.75,2.9,3.4,3.3,3.7,3.3,3.6,3.4,3.75,3.9,3.5,3.6,3.2,
  3.0,0.15,0.06,0.1,0.05,0.06,0.05,0.06,
  1.0,0.9,1.25,1.1,1.2,1.15,1.0,0.95,0.9,
  0.95,0.9,1.0,0.85,0.95,0.9,1.0,0.9];
var load07_15 = [0.14,0.15,0.15,0.13,0.15,0.15,0.16,0.15,0.17,0.16,0.17,0.16,0.1,0.06,
  0.06,0.06,0.06,0.06,0.06,0.06,0.06,0.06,0.06,0.06,0.06,0.06,0.06,0.06,0.06,0.06,0.06,0.06,
  0.06,0.06,0.42,
  0.9,1.1,1.25,1.35,1.45,1.55,1.62,1.7,1.78,1.85,1.92,1.98,2.05,2.1,2.16,2.22,2.28,2.34,2.42,2.55,2.8,3.05,3.2,3.25,3.28,3.3,3.32,3.32,3.3,3.28,3.2,
  3.1,0.35,0.08,0.06,0.06,0.06,0.06,0.06,
  0.3,0.46,0.6,0.7,0.78,0.8,0.8,0.8,0.79,
  0.78,0.78,0.77,0.77,0.77,0.78,0.77,0.77];
var load07_5 = [0.18,0.21,0.14,0.1,0.24,0.16,0.21,0.14,0.22,0.18,0.25,0.15,0.06,0.05,
  0.05,0.05,0.05,0.06,0.05,0.05,0.05,0.06,0.05,0.05,0.05,0.06,0.05,0.1,0.05,0.05,0.05,0.06,
  0.06,0.06,1.2,
  1.5,1.65,1.6,1.65,1.75,1.8,1.85,1.92,1.98,2.02,2.08,2.15,2.2,2.25,2.3,2.38,2.42,2.48,2.6,2.85,3.3,3.55,3.5,3.4,3.38,3.45,3.4,3.36,3.3,3.28,3.05,
  2.9,0.2,0.07,0.08,0.06,0.06,0.06,0.06,
  0.6,0.72,0.85,0.9,0.98,0.95,0.9,0.86,0.85,
  0.84,0.86,0.85,0.84,0.86,0.85,0.84,0.85];
var load08_1 = [0.15,0.18,0.12,0.08,0.17,0.13,0.18,0.12,0.19,0.14,0.17,0.13,0.05,0.04,
  0.04,0.05,0.04,0.05,0.04,0.05,0.04,0.05,0.04,0.05,0.04,0.05,0.04,0.05,0.22,0.05,0.04,0.05,
  0.05,0.04,0.95,
  1.05,0.85,1.1,0.85,1.15,1.0,1.25,1.1,1.35,1.2,1.45,1.3,1.55,1.4,1.65,1.5,1.75,1.6,1.85,1.65,1.95,1.8,2.05,1.85,2.1,2.0,2.2,2.05,2.25,2.0,2.0,
  1.9,0.12,0.05,0.07,0.04,0.05,0.04,0.05,
  0.85,0.8,1.0,1.05,1.2,1.1,0.95,1.0,1.05,
  1.0,1.1,0.95,1.05,1.0,1.1,0.95,1.05];
var load08_15 = [0.1,0.11,0.11,0.1,0.11,0.11,0.12,0.11,0.12,0.12,0.12,0.11,0.07,0.05,
  0.04,0.04,0.04,0.04,0.04,0.04,0.04,0.04,0.04,0.04,0.04,0.04,0.04,0.04,0.04,0.04,0.04,0.04,
  0.04,0.04,0.28,
  0.4,0.55,0.65,0.72,0.78,0.83,0.88,0.93,0.98,1.03,1.08,1.12,1.17,1.21,1.25,1.29,1.34,1.38,1.43,1.46,1.5,1.56,1.6,1.64,1.68,1.72,1.76,1.78,1.8,1.8,1.79,
  1.75,0.28,0.06,0.05,0.04,0.04,0.04,0.04,
  0.25,0.42,0.55,0.65,0.72,0.78,0.8,0.82,0.83,
  0.84,0.84,0.85,0.84,0.84,0.85,0.84,0.84];
var load08_5 = [0.12,0.15,0.11,0.08,0.15,0.12,0.16,0.11,0.16,0.13,0.15,0.12,0.05,0.04,
  0.04,0.05,0.04,0.04,0.04,0.05,0.04,0.04,0.04,0.05,0.04,0.04,0.04,0.05,0.12,0.05,0.04,0.04,
  0.04,0.04,0.65,
  0.85,0.95,0.9,0.82,0.9,0.96,1.02,1.06,1.12,1.18,1.24,1.28,1.34,1.38,1.42,1.46,1.5,1.54,1.6,1.58,1.66,1.72,1.78,1.76,1.84,1.9,1.88,1.94,1.92,1.9,1.86,
  1.8,0.16,0.06,0.06,0.04,0.04,0.04,0.04,
  0.5,0.62,0.8,0.88,0.98,0.95,0.9,0.92,0.94,
  0.92,0.95,0.9,0.94,0.92,0.95,0.9,0.93];
var load09_1 = [0.14,0.17,0.1,0.07,0.15,0.12,0.17,0.1,0.18,0.12,0.16,0.12,0.04,0.03,
  0.03,0.05,0.04,0.03,0.06,0.04,0.03,0.05,0.04,0.03,0.05,0.04,0.03,0.05,0.04,0.03,0.05,0.04,
  0.04,0.04,1.15,
  1.3,1.0,1.35,1.05,1.4,1.25,1.55,1.4,1.7,1.55,1.85,1.7,2.05,1.85,2.2,1.95,2.3,2.05,2.35,2.15,2.45,2.3,2.6,2.35,2.7,2.55,2.8,2.6,2.9,2.6,2.5,
  2.3,0.1,0.05,0.07,0.04,0.04,0.04,0.04,
  0.95,0.75,0.8,0.9,1.0,0.85,0.7,0.6,0.55,
  0.5,0.6,0.45,0.55,0.5,0.45,0.55,0.5];
var load09_15 = [0.1,0.11,0.11,0.1,0.11,0.11,0.12,0.11,0.12,0.12,0.12,0.11,0.07,0.04,
  0.04,0.04,0.04,0.04,0.04,0.04,0.04,0.04,0.04,0.04,0.04,0.04,0.04,0.04,0.04,0.04,0.04,0.04,
  0.04,0.04,0.3,
  0.5,0.7,0.82,0.9,0.98,1.04,1.1,1.16,1.22,1.28,1.34,1.4,1.45,1.5,1.55,1.6,1.66,1.72,1.78,1.82,1.88,1.95,2.0,2.05,2.1,2.16,2.2,2.24,2.26,2.26,2.24,
  2.2,0.3,0.07,0.05,0.04,0.04,0.04,0.04,
  0.22,0.36,0.46,0.52,0.58,0.6,0.58,0.55,0.52,
  0.5,0.49,0.49,0.48,0.48,0.49,0.48,0.48];
var load09_5 = [0.12,0.15,0.1,0.07,0.13,0.11,0.15,0.1,0.16,0.12,0.14,0.11,0.04,0.03,
  0.03,0.04,0.04,0.03,0.05,0.04,0.03,0.04,0.04,0.03,0.04,0.04,0.03,0.04,0.04,0.03,0.04,0.04,
  0.04,0.04,0.8,
  1.0,1.12,1.05,0.98,1.1,1.18,1.25,1.3,1.4,1.46,1.54,1.6,1.66,1.72,1.78,1.82,1.9,1.95,2.02,2.0,2.12,2.2,2.28,2.25,2.35,2.42,2.38,2.45,2.42,2.38,2.34,
  2.2,0.15,0.06,0.06,0.04,0.04,0.04,0.04,
  0.45,0.55,0.62,0.7,0.76,0.72,0.64,0.58,0.56,
  0.55,0.54,0.55,0.53,0.55,0.54,0.55,0.53];
var load10_1 = [0.18,0.24,0.12,0.07,0.22,0.14,0.18,0.45,0.2,0.14,0.2,0.15,0.04,0.04,
  0.04,0.05,0.04,0.06,0.04,0.05,0.08,0.04,0.05,0.04,0.06,0.04,0.05,0.04,0.05,0.06,0.04,0.05,
  0.05,0.05,1.1,
  1.1,1.4,0.95,1.2,1.3,1.05,1.5,1.4,1.7,1.45,1.85,1.9,1.6,2.1,2.2,1.9,2.3,2.1,2.6,2.2,2.65,2.4,2.8,2.5,3.0,3.4,2.7,3.35,3.2,2.9,3.3,
  3.0,0.12,0.05,0.12,0.04,0.05,0.04,0.05,
  0.85,0.8,0.95,1.05,1.15,1.0,0.95,0.85,0.8,
  0.8,0.75,0.85,0.7,0.8,0.75,0.8,0.7];
var load10_15 = [0.1,0.12,0.11,0.09,0.1,0.11,0.12,0.12,0.12,0.12,0.12,0.11,0.08,0.07,
  0.07,0.07,0.07,0.07,0.07,0.07,0.07,0.07,0.07,0.07,0.07,0.07,0.07,0.07,0.07,0.07,0.07,0.07,
  0.07,0.07,0.2,
  0.5,0.7,0.85,0.92,1.0,1.08,1.15,1.22,1.3,1.38,1.46,1.54,1.6,1.7,1.78,1.86,1.94,2.02,2.12,2.2,2.28,2.36,2.42,2.48,2.58,2.72,2.82,2.9,2.98,3.0,3.05,
  3.0,2.7,0.3,0.12,0.08,0.07,0.07,0.07,
  0.15,0.3,0.42,0.52,0.6,0.64,0.65,0.65,0.64,
  0.63,0.62,0.62,0.62,0.61,0.62,0.61,0.61];
var load10_5 = [0.15,0.2,0.1,0.04,0.18,0.1,0.15,0.15,0.12,0.1,0.15,0.12,0.03,0.03,
  0.03,0.03,0.04,0.03,0.03,0.04,0.03,0.03,0.04,0.03,0.03,0.04,0.03,0.03,0.04,0.03,0.03,0.04,
  0.03,0.03,0.7,
  0.9,1.2,1.15,0.95,1.12,1.2,1.3,1.38,1.45,1.55,1.68,1.75,1.72,1.95,1.98,2.05,2.12,2.18,2.45,2.32,2.42,2.48,2.52,2.38,2.8,3.15,2.85,3.15,3.1,3.0,3.15,
  2.8,0.15,0.05,0.12,0.03,0.03,0.03,0.03,
  0.44,0.55,0.65,0.78,0.88,0.82,0.75,0.69,0.68,
  0.65,0.62,0.64,0.62,0.66,0.63,0.6,0.57];

// legend rows as in the dashboard
var cpuRows = [[0, 1, 2, 3, 4, 5, 6, 7], [8, 9]];
var memRows = [[0, 1, 2, 3, 4, 5, 6, 7, 8], [9, 10, 11, 12, 13, 14, 15, 16, 17], [18, 19]];
var loadRows = [[0, 1, 2, 3, 4, 5, 6, 7, 8], [9, 10, 11, 12, 13, 14, 15, 16, 17], [18, 19, 20, 21, 22, 23, 24, 25, 26], [27, 28, 29]];

var problems = [];

function pairs(times, vals, name) {
  if (vals.length !== times.length) problems.push(name + ': ' + vals.length + '/' + times.length);
  return times.map(function (t, i) { return [t, vals[i]]; });
}

function hourLabel(h) {
  var day = 19 + Math.floor(h / 24);
  var hh = h % 24;
  return '4/' + day + ' ' + (hh < 10 ? '0' : '') + hh + ':00';
}

function bytesLabel(v) {
  if (v === 0) return '0 B';
  var b = v * 1e9;
  if (b < 1073741824) return Math.round(b / 1048576) + ' MiB';
  return (b / 1073741824).toFixed(1) + ' GiB';
}

function drawPanel(id, p) {
  var chart = echarts.init(document.getElementById(id));
  var legends = p.rows.map(function (row, i) {
    return {
      left: 37, top: p.legendTop + i * 18, padding: 0,
      itemGap: 10, itemWidth: 12, itemHeight: 3, icon: 'rect',
      textStyle: { color: '#d8d9da', fontSize: FSIZE, lineHeight: 14, fontFamily: FONT },
      data: row.map(function (k) { return p.names[k]; })
    };
  });
  var series = p.values.map(function (vals, k) {
    return {
      name: p.names[k], type: 'line',
      data: pairs(p.times, vals, p.names[k]),
      showSymbol: false, symbol: 'none', silent: true,
      lineStyle: { width: 2, color: palette[k] },
      itemStyle: { color: palette[k] },
      areaStyle: { color: palette[k], opacity: 0.1 }
    };
  });
  chart.setOption({
    animation: false,
    textStyle: { fontFamily: FONT },
    title: {
      text: p.title, left: 'center', top: p.titleTop, padding: 0,
      textStyle: { color: '#d8d9da', fontSize: 14, fontWeight: 'bold', lineHeight: 16, fontFamily: FONT }
    },
    legend: legends,
    grid: { left: p.grid[0], top: p.grid[1], width: p.grid[2], height: p.grid[3] },
    xAxis: {
      type: 'value', min: 8, max: 176, interval: 8,
      axisLine: { show: false }, axisTick: { show: false },
      axisLabel: { color: '#c8c9ca', fontSize: FSIZE, margin: p.xMargin, showMinLabel: false, formatter: hourLabel },
      splitLine: { show: true, showMinLine: false, lineStyle: { color: GRID, width: 1 } }
    },
    yAxis: {
      type: 'value', min: 0, max: p.yMax, interval: p.yStep,
      axisLine: { show: false }, axisTick: { show: false },
      axisLabel: { color: '#c8c9ca', fontSize: FSIZE, margin: p.yMargin, formatter: p.yFormat },
      splitLine: { show: true, lineStyle: { color: GRID, width: 1 } }
    },
    series: series
  });
}

drawPanel('cpu', {
  title: 'CPU', titleTop: 7,
  grid: [48, 35, 1798, 160],
  legendTop: 225, rows: cpuRows,
  times: cpuTimes,
  names: hosts.map(function (h) { return 'prod-noxstor' + h + '.noxf.se cpu_user'; }),
  values: [cpu01, cpu02, cpu03, cpu04, cpu05, cpu06, cpu07, cpu08, cpu09, cpu10],
  yMax: 100, yStep: 25, yMargin: 3, xMargin: 11,
  yFormat: function (v) { return v + '%'; }
});

var memNames = [];
hosts.forEach(function (h) {
  memNames.push('prod-noxstor' + h + '.noxf.se CACHES');
  memNames.push('prod-noxstor' + h + '.noxf.se USED');
});
drawPanel('mem', {
  title: 'Memory', titleTop: 6,
  grid: [61, 33, 1785, 161],
  legendTop: 224, rows: memRows,
  times: memTimes,
  names: memNames,
  values: [mem01C, mem01U, mem02C, mem02U, mem03C, mem03U, mem04C, mem04U, mem05C, mem05U,
    mem06C, mem06U, mem07C, mem07U, mem08C, mem08U, mem09C, mem09U, mem10C, mem10U],
  yMax: 3, yStep: 0.5, yMargin: 3, xMargin: 10,
  yFormat: bytesLabel
});

var loadNames = [];
hosts.forEach(function (h) {
  ['load1', 'load15', 'load5'].forEach(function (m) {
    loadNames.push('prod-noxstor' + h + '.noxf.se ' + m);
  });
});
drawPanel('load', {
  title: 'Load', titleTop: 7,
  grid: [40, 34, 1806, 162],
  legendTop: 225, rows: loadRows,
  times: loadTimes,
  names: loadNames,
  values: [load01_1, load01_15, load01_5, load02_1, load02_15, load02_5, load03_1, load03_15, load03_5,
    load04_1, load04_15, load04_5, load05_1, load05_15, load05_5, load06_1, load06_15, load06_5,
    load07_1, load07_15, load07_5, load08_1, load08_15, load08_5, load09_1, load09_15, load09_5,
    load10_1, load10_15, load10_5],
  yMax: 4, yStep: 1, yMargin: 9, xMargin: 10,
  yFormat: function (v) { return v === 0 ? '0' : v.toFixed(1); }
});

if (problems.length) document.getElementById('problems').textContent = problems.join(' | ');
</script>
</body>
</html>
